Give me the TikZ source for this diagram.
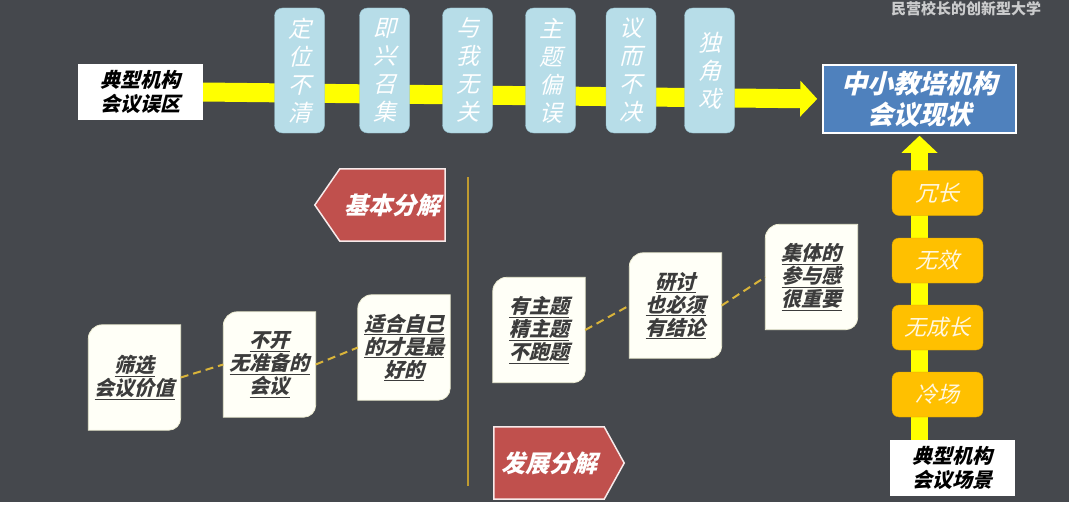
\documentclass[tikz,border=0pt]{standalone}
\usepackage{fontspec}
\newfontfamily\cjk{Noto Sans CJK SC}[FakeSlant=0.25, BoldFeatures={FakeSlant=0.25}]
\newfontfamily\cjkup{Noto Sans CJK SC}
\usetikzlibrary{arrows.meta,backgrounds,calc}
\definecolor{slate}{HTML}{45484D}
\definecolor{barfill}{HTML}{FFFF00}
\definecolor{iceblue}{HTML}{B7DDE8}
\definecolor{iceedge}{HTML}{93BFCD}
\definecolor{steel}{HTML}{4F81BD}
\definecolor{amber}{HTML}{FFC000}
\definecolor{amberedge}{HTML}{D9A300}
\definecolor{brick}{HTML}{C0504D}
\definecolor{gold}{HTML}{D9B43A}
\definecolor{darkgold}{HTML}{BF9B30}
\definecolor{inkgray}{HTML}{3C3C3C}
\definecolor{cream}{HTML}{FFFFF7}
\tikzset{
  label box/.style={draw=white, fill=white, minimum width=124pt, minimum height=55pt,
    align=center, font=\cjk\bfseries\fontsize{20}{24}\selectfont},
  issue/.style={draw=iceedge, fill=iceblue, rounded corners=8pt, minimum width=50pt,
    minimum height=125pt, align=center, text=white, font=\cjk\fontsize{23}{28}\selectfont},
  symptom/.style={draw=amberedge, fill=amber, rounded corners=7pt, minimum width=91pt,
    minimum height=45pt, text=amber!12!white, font=\cjk\fontsize{22}{26}\selectfont},
  card/.style={minimum width=92pt, minimum height=105pt, align=center, text=inkgray,
    font=\cjk\bfseries\fontsize{20}{23}\selectfont},
  cardface/.style={fill=cream, draw=cream!85!olive, line width=0.8pt},
  tag/.style={minimum width=105pt, minimum height=72pt, text=white,
    font=\cjk\bfseries\fontsize{24}{26}\selectfont},
  tagface/.style={fill=brick, draw=white!88!brick, line width=1.5pt},
  flow/.style={barfill, line width=19pt, -{Triangle[length=17pt,width=35pt]}},
  link/.style={gold, line width=2pt, dash pattern=on 8pt off 5pt},
  divider/.style={darkgold, line width=2pt},
}
\begin{document}
\begin{tikzpicture}[x=1pt,y=1pt]
  \useasboundingbox (0,0) rectangle (1069,-511);
  \begin{scope}[on background layer]
    \fill[white] (0,0) rectangle (1069,-511);
    \fill[slate] (0,0) rectangle (1069,-502);
  \end{scope}
  \node[text=white!72!slate, font=\cjkup\bfseries\fontsize{15}{15}\selectfont] (mark) at (966,-9) {民营校长的创新型大学};

  % top row
  \node[label box] (traps) at (140.5,-92) {典型机构\\会议误区};
  \node[label box, fill=steel, text=white, line width=1.5pt, minimum width=193pt, minimum height=68pt,
    font=\cjk\bfseries\fontsize{26}{31}\selectfont] (status) at (919.5,-99) {中小教培机构\\会议现状};
  \foreach \x/\t [count=\i] in {299.5/{定\\位\\不\\清}, 384.5/{即\\兴\\召\\集}, 467.5/{与\\我\\无\\关},
      550.5/{主\\题\\偏\\误}, 631/{议\\而\\不\\决}, 709.5/{独\\角\\戏}}
    \node[issue] (issue\i) at (\x,-70.5) {\t};

  % right column
  \node[label box] (scene) at (952,-468) {典型机构\\会议场景};
  \foreach \y/\t [count=\i] in {193/冗长, 260.5/无效, 327.5/无成长, 394.5/冷场}
    \node[symptom] (sym\i) at (937.5,-\y) {\t};

  \begin{scope}[on background layer]
    \draw[flow, shorten >=5pt] (traps.east) -- (status.west);
    \draw[flow, line width=17pt, shorten >=2pt] (status.south |- scene.north) -- (status.south);
  \end{scope}

  % two halves
  \draw[divider] (468,-177) -- (468,-486);
  \node[tag] (basic) at (392.5,-205) {基本分解};
  \node[tag, minimum width=110pt] (develop) at (549,-463) {发展分解};
  \begin{scope}[on background layer]
    \filldraw[tagface] (basic.north east) -- (basic.north west) -- ($(basic.west)+(-25,0)$)
      -- (basic.south west) -- (basic.south east) -- cycle;
    \filldraw[tagface] (develop.north west) -- (develop.north east) -- ($(develop.east)+(20,0)$)
      -- (develop.south east) -- (develop.south west) -- cycle;
  \end{scope}

  % cards
  \foreach \x/\y/\t [count=\i] in {
      134.5/377.5/{\underline{筛选}\\\underline{会议价值}},
      269.5/364.5/{\underline{不开}\\\underline{无准备的}\\\underline{会议}},
      404/347.5/{\underline{适合自己}\\\underline{的才是最}\\\underline{好的}},
      539/330/{\underline{有主题}\\\underline{精主题}\\\underline{不跑题}},
      675.5/305.5/{\underline{研讨}\\\underline{也必须}\\\underline{有结论}},
      811.5/277/{\underline{集体的}\\\underline{参与感}\\\underline{很重要}}}
    \node[card] (card\i) at (\x,-\y) {\t};
  \begin{scope}[on background layer]
    \foreach \i in {1,...,6}
      \filldraw[cardface] (card\i.south west) -- ([yshift=-14pt]card\i.north west)
        arc[start angle=180, end angle=90, radius=14pt] -- (card\i.north east)
        -- ([yshift=12pt]card\i.south east) arc[start angle=0, end angle=-90, radius=12pt] -- cycle;
  \end{scope}
  \foreach \a/\b in {1/2, 2/3, 4/5, 5/6}
    \draw[link] (card\a.east) -- (card\b.west);
\end{tikzpicture}
\end{document}
